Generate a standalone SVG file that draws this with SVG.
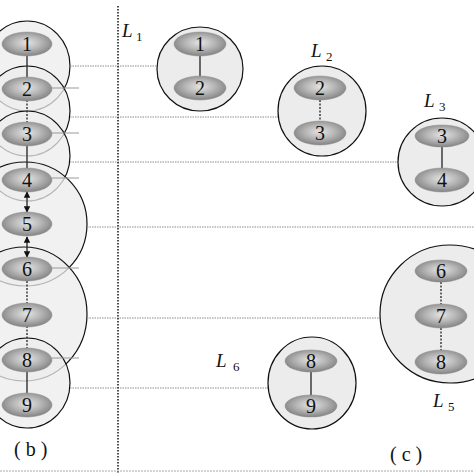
<svg xmlns="http://www.w3.org/2000/svg" width="474" height="474" viewBox="0 0 474 474">
<defs>
<radialGradient id="eg" cx="0.5" cy="0.45" r="0.6">
<stop offset="0" stop-color="#e4e4e4"/>
<stop offset="0.45" stop-color="#b8b8b8"/>
<stop offset="1" stop-color="#7a7a7a"/>
</radialGradient>
<marker id="ah" viewBox="0 0 10 10" refX="9" refY="5" markerWidth="5" markerHeight="5" orient="auto-start-reverse">
<path d="M0,0 L10,5 L0,10 z" fill="#111"/>
</marker>
<style>
.el{fill:url(#eg);stroke:#8a8a8a;stroke-width:0.5}
.num{font-family:"Liberation Serif",serif;font-size:20px;text-anchor:middle;fill:#111}
.grp{fill:#ececec;fill-opacity:0.75;stroke:#111;stroke-width:1.2}
.rg{fill:#ececec;stroke:#111;stroke-width:1.2}
.solid{stroke:#222;stroke-width:1.3}
.dash{stroke:#222;stroke-width:1.3;stroke-dasharray:2 1.5}
.hl{stroke:#8c8c8c;stroke-width:1;stroke-dasharray:1.5 1;fill:none}
.tick{stroke:#999;stroke-width:1}
.lab{font-family:"Liberation Serif",serif;font-size:19px;font-style:italic;fill:#111}
.sub{font-family:"Liberation Serif",serif;font-size:13px;fill:#111}
.cap{font-family:"Liberation Serif",serif;font-size:20px;fill:#111}
</style>
</defs>
<rect width="474" height="474" fill="#fff"/>

<g id="left-groups">
<ellipse class="grp" cx="27" cy="66" rx="43" ry="45"/>
<ellipse class="grp" cx="27" cy="111" rx="43" ry="45"/>
<ellipse class="grp" cx="27" cy="156" rx="43" ry="45"/>
<ellipse class="grp" cx="25" cy="224" rx="62" ry="62"/>
<ellipse class="grp" cx="24" cy="314" rx="63" ry="67"/>
<ellipse class="grp" cx="27" cy="383" rx="43" ry="45"/>
</g>

<g id="connectors">
<line class="hl" x1="70" y1="66" x2="157" y2="66"/>
<line class="hl" x1="70" y1="117" x2="278" y2="117"/>
<line class="hl" x1="70" y1="162" x2="398" y2="162"/>
<line class="hl" x1="87" y1="227" x2="474" y2="227"/>
<line class="hl" x1="87" y1="318" x2="381" y2="318"/>
<line class="hl" x1="70" y1="388" x2="268" y2="388"/>
<line x1="118" y1="6" x2="118" y2="474" stroke="#222" stroke-width="1.6" stroke-dasharray="1.5 1.5"/>
<line x1="0" y1="471" x2="474" y2="471" stroke="#aaa" stroke-width="1.2" stroke-dasharray="2 1"/>
<line class="tick" x1="52" y1="88" x2="79" y2="88"/>
<line class="tick" x1="52" y1="133" x2="79" y2="133"/>
<line class="tick" x1="52" y1="178" x2="79" y2="178"/>
<line class="tick" x1="52" y1="268" x2="79" y2="268"/>
<line class="tick" x1="52" y1="358" x2="79" y2="358"/>
<line class="solid" x1="27" y1="56" x2="27" y2="78"/>
<line class="dash" x1="27" y1="100" x2="27" y2="123"/>
<line class="solid" x1="27" y1="145" x2="27" y2="168"/>
<line class="solid" x1="27" y1="192" x2="27" y2="212" marker-start="url(#ah)" marker-end="url(#ah)"/>
<line class="solid" x1="27" y1="237" x2="27" y2="257" marker-start="url(#ah)" marker-end="url(#ah)"/>
<line class="dash" x1="27" y1="281" x2="27" y2="303"/>
<line class="dash" x1="27" y1="326" x2="27" y2="348"/>
<line class="solid" x1="27" y1="371" x2="27" y2="393"/>
</g>

<g id="n1"><ellipse class="el" cx="27" cy="44" rx="25" ry="12"/><text class="num" x="27" y="51">1</text></g>
<g id="n2"><ellipse class="el" cx="27" cy="89" rx="25" ry="12"/><text class="num" x="27" y="96">2</text></g>
<g id="n3"><ellipse class="el" cx="27" cy="134" rx="25" ry="12"/><text class="num" x="27" y="141">3</text></g>
<g id="n4"><ellipse class="el" cx="27" cy="180" rx="25" ry="12"/><text class="num" x="27" y="187">4</text></g>
<g id="n5"><ellipse class="el" cx="27" cy="224" rx="25" ry="12"/><text class="num" x="27" y="231">5</text></g>
<g id="n6"><ellipse class="el" cx="27" cy="269" rx="25" ry="12"/><text class="num" x="27" y="276">6</text></g>
<g id="n7"><ellipse class="el" cx="27" cy="315" rx="25" ry="12"/><text class="num" x="27" y="322">7</text></g>
<g id="n8"><ellipse class="el" cx="27" cy="360" rx="25" ry="12"/><text class="num" x="27" y="367">8</text></g>
<g id="n9"><ellipse class="el" cx="27" cy="405" rx="25" ry="12"/><text class="num" x="27" y="412">9</text></g>

<g id="L1">
<ellipse class="rg" cx="200" cy="69" rx="43" ry="42"/>
<line class="solid" x1="200" y1="55" x2="200" y2="77"/>
<ellipse class="el" cx="200" cy="44" rx="26" ry="12"/><text class="num" x="200" y="51">1</text>
<ellipse class="el" cx="200" cy="88" rx="26" ry="12"/><text class="num" x="200" y="95">2</text>
<text class="lab" x="122" y="37">L</text><text class="sub" x="136" y="41">1</text>
</g>
<g id="L2">
<ellipse class="rg" cx="322" cy="111" rx="44" ry="45"/>
<line class="dash" x1="320" y1="100" x2="320" y2="122"/>
<ellipse class="el" cx="320" cy="88" rx="26" ry="12"/><text class="num" x="320" y="95">2</text>
<ellipse class="el" cx="320" cy="133" rx="26" ry="12"/><text class="num" x="320" y="140">3</text>
<text class="lab" x="311" y="57">L</text><text class="sub" x="326" y="61">2</text>
</g>
<g id="L3">
<ellipse class="rg" cx="442" cy="162" rx="44" ry="44"/>
<line class="solid" x1="442" y1="147" x2="442" y2="169"/>
<ellipse class="el" cx="442" cy="136" rx="27" ry="11"/><text class="num" x="442" y="143">3</text>
<ellipse class="el" cx="442" cy="180" rx="27" ry="12"/><text class="num" x="442" y="187">4</text>
<text class="lab" x="424" y="107">L</text><text class="sub" x="439" y="111">3</text>
</g>
<g id="L5">
<ellipse class="rg" cx="450" cy="314" rx="70" ry="69"/>
<line class="dash" x1="441" y1="282" x2="441" y2="305"/>
<line class="dash" x1="441" y1="328" x2="441" y2="351"/>
<ellipse class="el" cx="441" cy="271" rx="26" ry="11"/><text class="num" x="441" y="278">6</text>
<ellipse class="el" cx="441" cy="316" rx="26" ry="12"/><text class="num" x="441" y="323">7</text>
<ellipse class="el" cx="441" cy="362" rx="26" ry="12"/><text class="num" x="441" y="369">8</text>
<text class="lab" x="433" y="407">L</text><text class="sub" x="448" y="411">5</text>
</g>
<g id="L6">
<ellipse class="rg" cx="312" cy="383" rx="44" ry="46"/>
<line class="solid" x1="311" y1="372" x2="311" y2="395"/>
<ellipse class="el" cx="311" cy="361" rx="26" ry="11"/><text class="num" x="311" y="368">8</text>
<ellipse class="el" cx="311" cy="406" rx="26" ry="11"/><text class="num" x="311" y="413">9</text>
<text class="lab" x="216" y="367">L</text><text class="sub" x="233" y="371">6</text>
</g>

<text class="cap" x="14" y="456">( b )</text>
<text class="cap" x="390" y="461">( c )</text>
</svg>
